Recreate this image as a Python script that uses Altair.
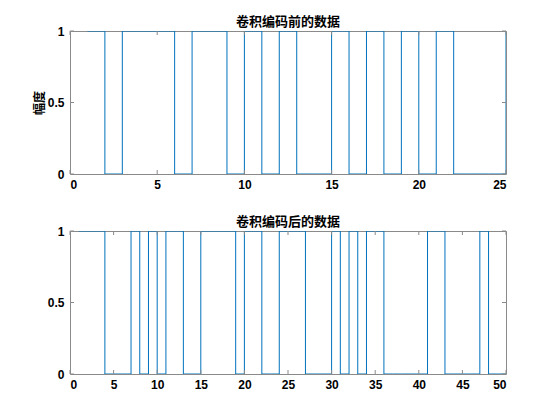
import altair as alt
import pandas as pd

# ---- data ----
before_bits = [1, 0, 1, 1, 1, 0, 1, 1, 0, 1, 0, 1, 0, 0, 1, 0, 1, 0, 1, 0, 1, 0, 0, 0, 1]
after_bits = [1, 1, 1, 0, 0, 0, 1, 0, 1, 0, 1, 1, 0, 0, 1, 1, 1, 1, 0, 1,
              1, 0, 0, 1, 1, 1, 0, 0, 0, 1, 0, 1, 0, 1, 1, 0, 0, 0, 0, 0,
              1, 1, 0, 0, 0, 0, 1, 0, 0, 0]
top_xticks = [0, 5, 10, 15, 20, 25]
bottom_xticks = [0, 5, 10, 15, 20, 25, 30, 35, 40, 45, 50]
yticks = [0, 0.5, 1]
title_top = "卷积编码前的数据"
title_bottom = "卷积编码后的数据"
ylabel = "幅度"

# ---- style ----
W, H = 436, 143
TICK_PX = 4
BLUE = "#0072BD"
AXIS = "#8a8a8a"
NUM_FONT = "Liberation Sans"
CJK_FONT = "Noto Sans CJK SC"


def panel(bits, xticks, title, show_ylabel):
    xmax = len(bits)
    df = pd.DataFrame({"x": list(range(1, xmax + 1)), "y": bits})
    xs = alt.Scale(domain=[0, xmax], nice=False, zero=False)
    ys = alt.Scale(domain=[0, 1], nice=False)
    line = alt.Chart(df).mark_line(
        interpolate="step-after", color=BLUE, strokeWidth=1, clip=True
    ).encode(
        x=alt.X("x:Q", scale=xs, title=None,
                axis=alt.Axis(values=xticks, format="~g", ticks=False, domain=False,
                              grid=False, labelPadding=5)),
        y=alt.Y("y:Q", scale=ys, title=ylabel,
                axis=alt.Axis(values=yticks, format="~g", ticks=False, domain=False,
                              grid=False, labelPadding=6,
                              titleOpacity=1 if show_ylabel else 0)),
    )
    dy = TICK_PX / H
    dx = TICK_PX / W * xmax
    xt_b = pd.DataFrame({"x": xticks, "y": [0] * len(xticks), "y2": [dy] * len(xticks)})
    xt_t = pd.DataFrame({"x": xticks, "y": [1] * len(xticks), "y2": [1 - dy] * len(xticks)})
    yt_l = pd.DataFrame({"x": [0] * len(yticks), "x2": [dx] * len(yticks), "y": yticks})
    yt_r = pd.DataFrame({"x": [xmax] * len(yticks), "x2": [xmax - dx] * len(yticks), "y": yticks})

    def vtick(d):
        return alt.Chart(d).mark_rule(color=AXIS, strokeWidth=1).encode(
            x=alt.X("x:Q", title=None), y=alt.Y("y:Q", title=ylabel), y2="y2:Q")

    def htick(d):
        return alt.Chart(d).mark_rule(color=AXIS, strokeWidth=1).encode(
            x=alt.X("x:Q", title=None), x2="x2:Q", y=alt.Y("y:Q", title=ylabel))

    return alt.layer(line, vtick(xt_b), vtick(xt_t), htick(yt_l), htick(yt_r)).properties(
        width=W, height=H,
        title=alt.TitleParams(title, font=CJK_FONT, fontSize=13, fontWeight="bold",
                              color="black", offset=-4),
    )


chart = alt.vconcat(
    panel(before_bits, top_xticks, title_top, True),
    panel(after_bits, bottom_xticks, title_bottom, False),
    spacing=24,
).properties(
    padding={"left": 24, "top": 7, "right": 5, "bottom": 5},
    background="white",
).configure_view(
    stroke=AXIS, strokeWidth=1
).configure_axis(
    labelFont=NUM_FONT, labelFontSize=12, labelFontWeight="bold", labelColor="black",
    titleFont=CJK_FONT, titleFontSize=12, titleFontWeight="bold", titleColor="black",
    titlePadding=1,
)

chart.save("out.html", embed_options={"renderer": "svg", "actions": False})
